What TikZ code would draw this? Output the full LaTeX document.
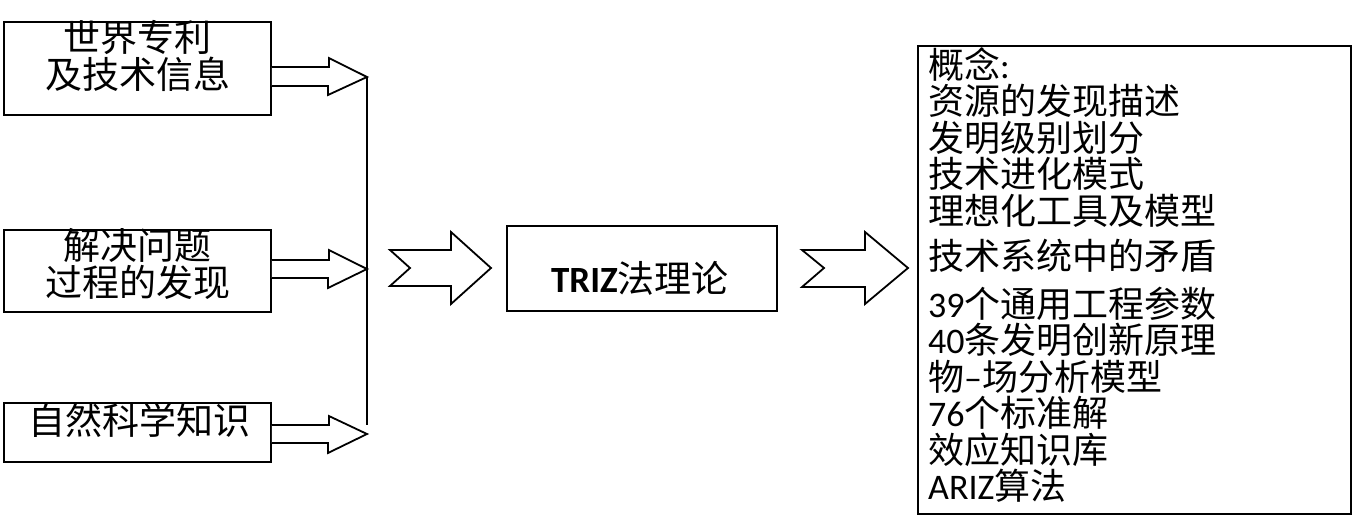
\documentclass[tikz,border=0pt]{standalone}
\usepackage{fontspec}
\setmainfont{Noto Sans CJK SC}
\newfontfamily\lat{Carlito}
\begin{document}
\begin{tikzpicture}[x=1pt, y=-1pt,
    box/.style={rectangle, draw, line width=1.8pt, inner sep=0pt},
    txt/.style={inner sep=0pt, align=center, font=\fontsize{37}{37}\selectfont},
    blk/.style={draw, line width=1.8pt, line join=miter, fill=white},
    ln/.style={line width=1.8pt}
]
\useasboundingbox (0,0) rectangle (1352,529);

% sources
\node[box, minimum width=267pt, minimum height=93pt] (b1) at (137.5, 68.5) {};
\node[box, minimum width=267pt, minimum height=82pt] (b2) at (137.5, 271) {};
\node[box, minimum width=267pt, minimum height=59pt] (b3) at (137.5, 432.5) {};
\node[txt] (t1) at (137.5, 56) {世界专利\\及技术信息};
\node[txt] (t2) at (137.5, 264) {解决问题\\过程的发现};
\node[txt] (t3) at (139, 420) {自然科学知识};

% theory and contents
\node[box, minimum width=270pt, minimum height=85pt] (triz) at (642, 268.5) {};
\node[txt] (tt) at (640, 278) {{\lat\bfseries TRIZ}法理论};
\node[box, minimum width=433pt, minimum height=468pt] (cpt) at (1134.5, 280) {};
\node[txt, align=left, anchor=north west, font=\fontsize{36}{36.5}\selectfont]
    (tc) at (928, 47) {概念{\lat:}\\
    资源的发现描述\\
    发明级别划分\\
    技术进化模式\\
    理想化工具及模型\\[9pt]
    技术系统中的矛盾\\[11pt]
    {\lat 39}个通用工程参数\\
    {\lat 40}条发明创新原理\\
    物{\lat –}场分析模型\\
    {\lat 76}个标准解\\
    效应知识库\\
    {\lat ARIZ}算法};

\coordinate (j1) at (367, 77);
\coordinate (j2) at (367, 269);
\coordinate (j3) at (367, 434);
\coordinate (j4) at (367, 425);

\draw[blk] (b1.east |- 0,67) -- ++(57,0) -- ++(0,-9) -- (j1) -- ++(-39,18) -- ++(0,-9) -- (b1.east |- 0,86);
\draw[blk] (b2.east |- 0,260) -- ++(57,0) -- ++(0,-10) -- (j2) -- ++(-39,19) -- ++(0,-10) -- (b2.east |- 0,278);
\draw[blk] (b3.east |- 0,425) -- ++(57,0) -- ++(0,-9) -- (j3) -- ++(-39,19) -- ++(0,-10) -- (b3.east |- 0,443);
\draw[ln] (j1) -- (j4);

\draw[blk] (390,250) -- (451,250) -- (451,232) -- (491,268) -- (451,304)
    -- (451,286) -- (390,286) -- (410,268) -- cycle;
\draw[blk] (802,250) -- (865,250) -- (865,232) -- (908,268) -- (865,304)
    -- (865,287) -- (802,287) -- (824,268) -- cycle;
\end{tikzpicture}
\end{document}
